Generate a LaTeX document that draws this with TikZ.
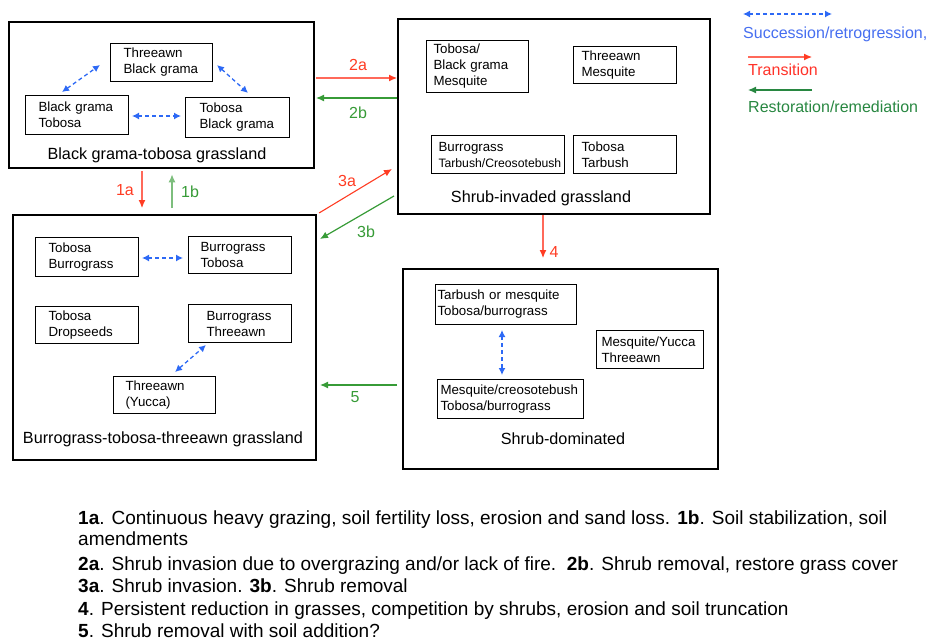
\documentclass[tikz,border=0pt]{standalone}
\usepackage{fontspec}
\setmainfont{Liberation Sans}
\usetikzlibrary{arrows.meta, positioning}
\definecolor{succblue}{RGB}{45,105,245}
\definecolor{transred}{RGB}{255,60,35}
\definecolor{translight}{RGB}{255,105,90}
\definecolor{restgreen}{RGB}{55,155,55}
\definecolor{restlight}{RGB}{125,190,125}
\definecolor{legblue}{RGB}{70,110,240}
\definecolor{legred}{RGB}{255,50,40}
\definecolor{leggreen}{RGB}{40,135,65}
\tikzstyle{region} = [rectangle, draw=black, line width=2.4pt, anchor=north west, inner sep=0pt]
\tikzstyle{cbox} = [rectangle, draw=black, line width=1pt, anchor=north west, align=left, inner ysep=0pt, font=\fontsize{13.3}{16}\selectfont]
\tikzstyle{title} = [font=\fontsize{16.2}{19}\selectfont]
\tikzstyle{lab} = [font=\fontsize{16}{19}\selectfont, inner sep=0pt]
\tikzstyle{succ} = [<->, >={Latex[length=7pt,width=7pt]}, succblue, line width=1.3pt, dash pattern=on 4pt off 3pt]
\tikzstyle{trans} = [->, >={Latex[length=8pt,width=7pt,color=transred]}, translight, line width=1.1pt]
\tikzstyle{rest} = [->, >={Latex[length=8pt,width=7pt]}, restgreen, line width=1.2pt]
\tikzstyle{note} = [anchor=base west, inner sep=0pt, font=\fontsize{19}{22}\selectfont]

\begin{document}
\begin{tikzpicture}[x=1pt, y=-1pt]

    \useasboundingbox (0,0) rectangle (936,642);

    % the four states
    \node [region, minimum width=305pt, minimum height=146pt] (blackg) at (8,21) {};
    \node [region, minimum width=312pt, minimum height=195pt] (shrubinv) at (397,18) {};
    \node [region, minimum width=303pt, minimum height=245pt] (burro) at (12,214) {};
    \node [region, minimum width=315pt, minimum height=200pt] (shrubdom) at (402,268) {};

    \node [title] (blackgt) at (157,155) {Black grama-tobosa grassland};
    \node [title] (shrubinvt) at (541,198) {Shrub-invaded grassland};
    \node [title] (burrot) at (163,439) {Burrograss-tobosa-threeawn grassland};
    \node [title] (shrubdomt) at (563,439) {Shrub-dominated};

    % communities
    \node [cbox, text width=76pt, inner xsep=13pt, minimum height=38pt] (tbg) at (110,43) {Threeawn\\Black grama};
    \node [cbox, text width=77pt, inner xsep=13pt, minimum height=39pt] (bgt) at (25,95) {Black grama\\Tobosa};
    \node [cbox, text width=76pt, inner xsep=14pt, minimum height=40pt] (tob) at (185,97) {Tobosa\\Black grama};

    \node [cbox, text width=88pt, inner xsep=7pt, minimum height=52pt] (tbm) at (426,40) {Tobosa/\\Black grama\\Mesquite};
    \node [cbox, text width=87pt, inner xsep=8pt, minimum height=37pt] (thm) at (573,46) {Threeawn\\Mesquite};
    \node [cbox, text width=119pt, inner xsep=7pt, minimum height=38pt] (btc) at (431,135) {Burrograss\\{\fontsize{12.2}{14}\selectfont Tarbush/Creosotebush}};
    \node [cbox, text width=87pt, inner xsep=8pt, minimum height=38pt] (tta) at (573,135) {Tobosa\\Tarbush};

    \node [cbox, text width=77pt, inner xsep=13pt, minimum height=39pt] (tbu) at (35,237) {Tobosa\\Burrograss};
    \node [cbox, text width=79pt, inner xsep=12pt, minimum height=37pt] (bto) at (188,236) {Burrograss\\Tobosa};
    \node [cbox, text width=77pt, inner xsep=13pt, minimum height=37pt] (tdr) at (35,306) {Tobosa\\Dropseeds};
    \node [cbox, text width=67pt, inner xsep=18pt, minimum height=38pt] (bth) at (188,304) {Burrograss\\Threeawn};
    \node [cbox, text width=78pt, inner xsep=12pt, minimum height=37pt] (tyu) at (113,376) {Threeawn\\(Yucca)};

    \node [cbox, text width=137pt, inner xsep=2pt, minimum height=40pt] (tms) at (435,284) {Tarbush or mesquite\\Tobosa/burrograss};
    \node [cbox, text width=140pt, inner xsep=3pt, minimum height=39pt] (mct) at (437,379) {Mesquite/creosotebush\\Tobosa/burrograss};
    \node [cbox, text width=97pt, inner xsep=5pt, minimum height=38pt] (myt) at (596,330) {Mesquite/Yucca\\Threeawn};

    % succession within states
    \coordinate (s1a) at (62,92);   \coordinate (s1b) at (100,65);
    \coordinate (s2a) at (217,65);  \coordinate (s2b) at (248,93);
    \coordinate (s3a) at (132,116); \coordinate (s3b) at (181,116);
    \coordinate (s4a) at (142,258); \coordinate (s4b) at (183,258);
    \coordinate (s5a) at (175,372); \coordinate (s5b) at (206,345);
    \coordinate (s6a) at (502,330); \coordinate (s6b) at (502,375);
    \draw [succ] (s1a) -- (s1b);
    \draw [succ] (s2a) -- (s2b);
    \draw [succ] (s3a) -- (s3b);
    \draw [succ] (s4a) -- (s4b);
    \draw [succ] (s5a) -- (s5b);
    \draw [succ] (s6a) -- (s6b);

    % transitions and restorations
    \coordinate (t2a) at (316,78);
    \coordinate (r2b) at (316,98);
    \coordinate (t1a) at (142,171);
    \coordinate (r1b) at (172,208);
    \coordinate (t3a) at (392,169);
    \coordinate (r3b) at (394,196);
    \coordinate (r3be) at (320,239);
    \coordinate (t4) at (543,215);
    \coordinate (r5) at (320,385);

    \draw [trans] (t2a) -- (t2a -| shrubinv.west);
    \draw [rest] (r2b -| shrubinv.west) -- (r2b);
    \draw [trans, shorten >=6pt] (t1a) -- (t1a |- burro.north);
    \draw [rest, restlight, shorten >=5pt] (r1b) -- (r1b |- blackg.south);
    \draw [trans, transred, shorten <=2pt] (burro.north east) -- (t3a);
    \draw [rest] (r3b) -- (r3be);
    \draw [trans, shorten >=10pt] (t4) -- (t4 |- shrubdom.north);
    \draw [rest, shorten <=5pt] (r5 -| shrubdom.west) -- (r5);

    \node [lab, transred] (l2a) at (358,65) {2a};
    \node [lab, restgreen] (l2b) at (358,113) {2b};
    \node [lab, transred] (l1a) at (125,190) {1a};
    \node [lab, restgreen] (l1b) at (190,192) {1b};
    \node [lab, transred] (l3a) at (347,181) {3a};
    \node [lab, restgreen] (l3b) at (366,232) {3b};
    \node [lab, transred] (l4) at (554,252) {4};
    \node [lab, restgreen] (l5) at (355,397) {5};

    % legend
    \coordinate (ks1) at (743,14);  \coordinate (ks2) at (832,14);
    \coordinate (kt1) at (748,57);  \coordinate (kt2) at (812,57);
    \coordinate (kr1) at (812,90);  \coordinate (kr2) at (748,90);
    \draw [succ] (ks1) -- (ks2);
    \draw [trans] (kt1) -- (kt2);
    \draw [rest, leggreen] (kr1) -- (kr2);
    \node [lab, legblue, anchor=west] (ksucc) at (743,34) {Succession/retrogression,};
    \node [lab, legred, anchor=west] (ktrans) at (748,70) {Transition};
    \node [lab, leggreen, anchor=west] (krest) at (748,107) {Restoration/remediation};

    % notes
    \node [note] (n1) at (78,524) {\textbf{1a}. Continuous heavy grazing, soil fertility loss, erosion and sand loss. \textbf{1b}. Soil stabilization, soil};
    \node [note] (n1b) at (78,545) {amendments};
    \node [note] (n2) at (78,570) {\textbf{2a}. Shrub invasion due to overgrazing and/or lack of fire.\ \ \textbf{2b}. Shrub removal, restore grass cover};
    \node [note] (n3) at (78,592) {\textbf{3a}. Shrub invasion. \textbf{3b}. Shrub removal};
    \node [note] (n4) at (78,615) {\textbf{4}. Persistent reduction in grasses, competition by shrubs, erosion and soil truncation};
    \node [note] (n5) at (78,637) {\textbf{5}. Shrub removal with soil addition?};

\end{tikzpicture}
\end{document}
